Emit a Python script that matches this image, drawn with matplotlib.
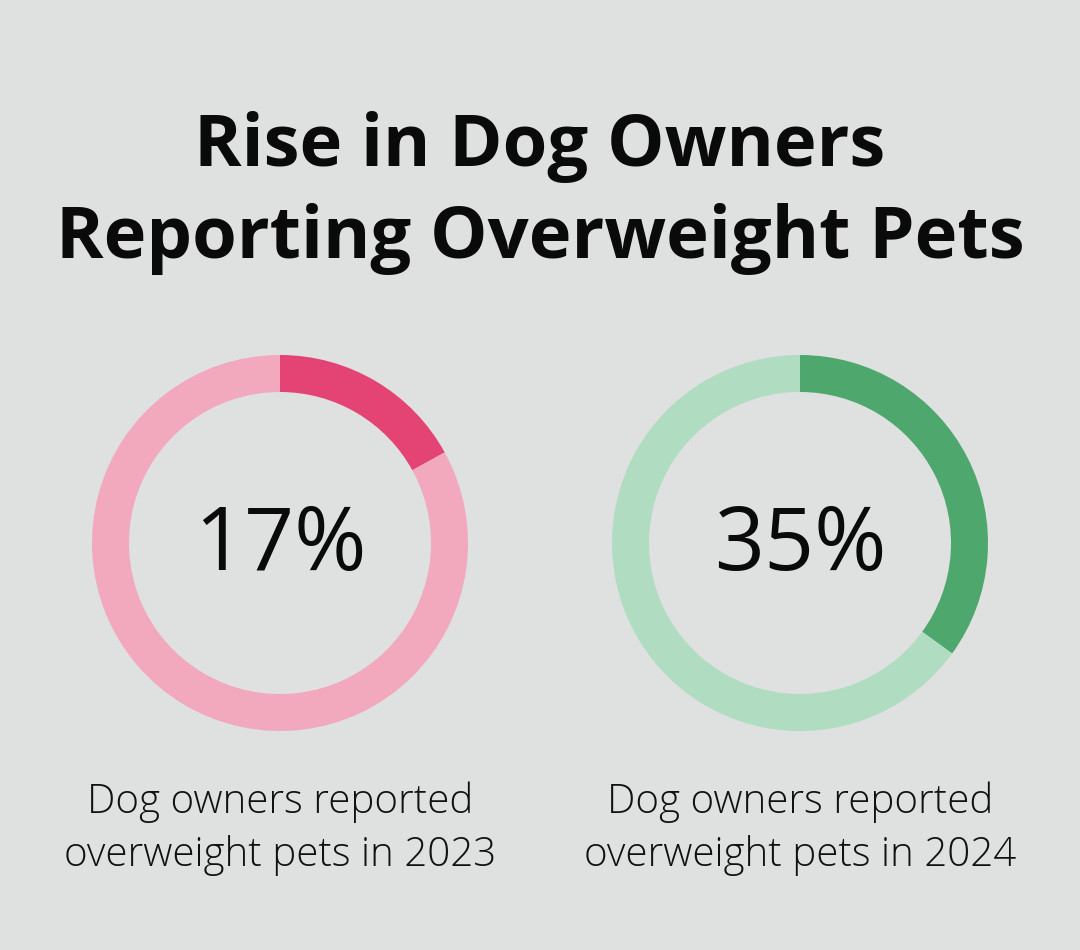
import matplotlib.pyplot as plt

# chart data
years = ["2023", "2024"]
shares = [17, 35]
dark_colors = ["#e44474", "#4ea86d"]
light_colors = ["#f2a8bd", "#b0dcc1"]
title = "Rise in Dog Owners\nReporting Overweight Pets"

W, H = 1080, 950
fig = plt.figure(figsize=(W / 100, H / 100), dpi=100, facecolor="#dfe1e0")
ax = fig.add_axes([0, 0, 1, 1])
ax.set_facecolor("#dfe1e0")

centers_x = [280, 800]
cy = H - 543
for i, (yr, val) in enumerate(zip(years, shares)):
    ax.pie([val, 100 - val], colors=[dark_colors[i], light_colors[i]],
           startangle=90, counterclock=False, radius=188,
           center=(centers_x[i], cy), frame=True,
           wedgeprops=dict(width=37, linewidth=0))
    ax.text(centers_x[i], cy - 4, f"{val}%", ha="center", va="center",
            fontsize=63, family="Open Sans", color="#0a0a0a")
    ax.text(centers_x[i], H - 829, f"Dog owners reported\noverweight pets in {yr}",
            ha="center", va="center", fontsize=29, family="Open Sans",
            fontweight="light", color="#111111", linespacing=1.4)

ax.text(W / 2, H - 193, title, ha="center", va="center", fontsize=52,
        family="Open Sans", fontweight="bold", color="#0a0a0a", linespacing=1.38)

ax.set_xlim(0, W)
ax.set_ylim(0, H)
ax.set_aspect("equal")
ax.axis("off")

fig.savefig("out.png", dpi=100, facecolor=fig.get_facecolor())
